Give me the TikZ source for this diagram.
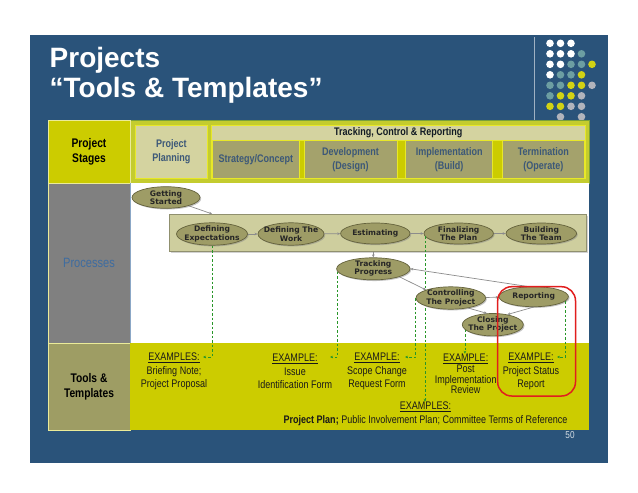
\documentclass[tikz,border=0pt]{standalone}
\usepackage{fontspec}
\setmainfont{Liberation Sans}
\newfontfamily\narrowfont[FakeStretch=0.82]{Liberation Sans}
\newfontfamily\procfont{DejaVu Sans}
\usepackage{tikz}
\usetikzlibrary{shapes.geometric, shadows, arrows.meta}
\definecolor{slideblue}{RGB}{42,83,122}
\definecolor{stageyellow}{RGB}{204,204,0}
\definecolor{bandgreen}{RGB}{196,204,46}
\definecolor{bandedge}{RGB}{122,160,58}
\definecolor{lightkhaki}{RGB}{212,211,160}
\definecolor{darkkhaki}{RGB}{164,162,108}
\definecolor{celledge}{RGB}{232,232,40}
\definecolor{celltext}{RGB}{60,88,120}
\definecolor{procgray}{RGB}{128,128,128}
\definecolor{procblue}{RGB}{62,108,160}
\definecolor{toololive}{RGB}{158,157,100}
\definecolor{ellfill}{RGB}{158,156,102}
\definecolor{elledge}{RGB}{100,98,60}
\definecolor{bandfill}{RGB}{206,206,158}
\definecolor{linkgray}{RGB}{140,140,140}
\definecolor{exgreen}{RGB}{40,150,40}
\definecolor{hilite}{RGB}{225,30,30}
\definecolor{dotteal}{RGB}{108,158,162}
\definecolor{dotyellow}{RGB}{210,210,20}
\definecolor{dotgray}{RGB}{178,180,188}
\newcommand{\cellfont}{\narrowfont\bfseries\fontsize{11}{14}\selectfont}
\newcommand{\toolfont}{\narrowfont\fontsize{11}{13.5}\selectfont}

\begin{document}
\begin{tikzpicture}[
      % GLOBAL CFG
      x=1pt, y=-1pt,
      >={Stealth[length=3pt,width=2.6pt]},
      % Styles
      stagecell/.style={% For row headers
        rectangle,
        fill=stageyellow,
        draw=white!60!stageyellow,
        line width=0.5pt,
        minimum width=82pt,
        inner sep=0pt,
        align=center,
        font=\narrowfont\bfseries\fontsize{12.5}{15}\selectfont
      },
      cell/.style={% For stage cells
        rectangle,
        fill=lightkhaki,
        draw=celledge,
        line width=0.8pt,
        inner sep=0pt,
        align=center,
        text=celltext,
        font=\cellfont
      },
      darkcell/.style={
        cell,
        fill=darkkhaki,
        minimum height=37.5pt
      },
      proc/.style={% For processes
        ellipse,
        draw=elledge,
        fill=ellfill,
        line width=0.7pt,
        inner xsep=-8pt,
        inner ysep=0pt,
        minimum width=70pt,
        minimum height=21pt,
        align=center,
        text=black!85,
        font=\procfont\bfseries\fontsize{7.6}{6.9}\selectfont,
        drop shadow={shadow xshift=1.2pt, shadow yshift=-1.2pt, opacity=0.45}
      },
      band/.style={% For the planning group
        rectangle,
        fill=bandfill,
        draw=bandfill!70!black,
        line width=0.6pt,
        inner sep=0pt,
        minimum width=417pt,
        minimum height=37pt,
        drop shadow={shadow xshift=1.5pt, shadow yshift=-1.5pt, opacity=0.35}
      },
      tool/.style={% For examples
        inner sep=0pt,
        align=center,
        text=black!90,
        font=\toolfont
      },
      arrowprocess/.style={% Arrows between processes
        ->,
        draw=linkgray,
        line width=0.7pt
      },
      arrowexample/.style={% Arrows to examples
        ->,
        color=exgreen,
        dash pattern=on 2.5pt off 2pt,
        line width=0.7pt
      }
      ]
      \useasboundingbox (0,0) rectangle (638,493);
      \fill[white] (0,0) rectangle (638,493);
      \fill[slideblue] (30,35) rectangle (608,463);

      % Title
      \node[anchor=base west, inner sep=0pt, text=white, font=\bfseries\fontsize{28}{30}\selectfont] (title) at (49.5,67) {Projects};
      \node[anchor=base west, inner sep=0pt, text=white, font=\bfseries\fontsize{28}{30}\selectfont] (subtitle) at (49.5,97) {“Tools \& Templates”};

      % Dots
      \draw[white!55!slideblue, line width=0.8pt] (534,37) -- (534,121);
      \fill[white] (550,43.3) circle (3.8) (560.5,43.3) circle (3.8) (571,43.3) circle (3.8)
        (550,53.8) circle (3.8) (560.5,53.8) circle (3.8) (571,53.8) circle (3.8)
        (550,64.3) circle (3.8) (560.5,64.3) circle (3.8) (550,74.8) circle (3.8);
      \fill[dotteal] (581.5,53.8) circle (3.8) (571,64.3) circle (3.8) (581.5,64.3) circle (3.8)
        (560.5,74.8) circle (3.8) (571,74.8) circle (3.8) (550,85.3) circle (3.8)
        (560.5,85.3) circle (3.8) (550,95.8) circle (3.8);
      \fill[dotyellow] (592,64.3) circle (3.8) (581.5,74.8) circle (3.8) (571,85.3) circle (3.8)
        (581.5,85.3) circle (3.8) (560.5,95.8) circle (3.8) (571,95.8) circle (3.8)
        (550,106.3) circle (3.8) (560.5,106.3) circle (3.8);
      \fill[dotgray] (592,85.3) circle (3.8) (581.5,95.8) circle (3.8) (571,106.3) circle (3.8)
        (581.5,106.3) circle (3.8) (560.5,116.8) circle (3.8) (581.5,116.8) circle (3.8);

      % Header row
      \filldraw[fill=bandgreen, draw=bandedge, line width=1pt] (130,120) rectangle (589,183);
      \node[stagecell, minimum height=63pt] (stages) at (89,151.5) {Project\\Stages};
      \node[cell, minimum width=72.7pt, minimum height=53pt] (planning) at (171.35,151.5) {Project\\Planning};
      \filldraw[fill=stageyellow, draw=celledge, line width=0.8pt] (211.7,125) rectangle (585,178);
      \node[cell, minimum width=373.3pt, minimum height=15pt, text=black!70!celltext] (tracking) at (398.35,132.5) {Tracking, Control \& Reporting};
      \node[darkcell, minimum width=86.3pt] (strategy) at (255.85,159.25) {Strategy/Concept};
      \node[darkcell, minimum width=93pt] (design) at (350.5,159.25) {Development\\(Design)};
      \node[darkcell, minimum width=87pt] (build) at (449.2,159.25) {Implementation\\(Build)};
      \node[darkcell, minimum width=81.3pt] (operate) at (543.35,159.25) {Termination\\(Operate)};

      % Rows
      \node[stagecell, fill=procgray, minimum height=160pt, text=procblue, font=\narrowfont\fontsize{13.5}{16}\selectfont] (processes) at (89,263) {Processes};
      \fill[white] (130,183) rectangle (589,343);
      \draw[procblue!60, line width=0.6pt] (130,183) -- (130,343);
      \node[stagecell, fill=toololive, minimum height=87pt] (tools) at (89,386.5) {Tools \&\\Templates};
      \fill[stageyellow] (130,343) rectangle (589,430);

      % Processes
      \node[band] (plan) at (378,232.7) {};
      \node[proc, minimum width=68pt, minimum height=21.6pt] (getstart) at (166,197.5) {Getting\\Started};
      \node[proc, minimum width=71pt, minimum height=22.4pt] (defexp) at (212,234) {Defining\\Expectations};
      \node[proc, minimum width=66pt, minimum height=22.4pt] (defwork) at (291,234) {Defining The\\Work};
      \node[proc, minimum width=69.4pt] (estim) at (375.3,233.5) {Estimating};
      \node[proc, minimum width=69.4pt] (finplan) at (458.7,233.5) {Finalizing\\The Plan};
      \node[proc, minimum width=70.6pt] (buildteam) at (541.3,233.5) {Building\\The Team};
      \node[proc, minimum width=73.4pt, minimum height=20pt] (track) at (373.3,268.8) {Tracking\\Progress};

      % Examples
      \node[tool] (exbrief) at (174,371.7) {\underline{EXAMPLES:}\\Briefing Note;\\Project Proposal};
      \node[tool] (exissue) at (295,371.7) {\underline{EXAMPLE:}\\Issue\\Identification Form};
      \node[tool] (exscope) at (377,371.7) {\underline{EXAMPLE:}\\Scope Change\\Request Form};
      \node[tool, font=\narrowfont\fontsize{11}{10.8}\selectfont] (expost) at (465.7,374) {\underline{EXAMPLE:}\\Post\\Implementation\\Review};
      \node[tool] (exstatus) at (531,371.7) {\underline{EXAMPLE:}\\Project Status\\Report};
      \node[tool] (exall) at (425.5,413.7) {\underline{EXAMPLES:}\\\textbf{Project Plan;} Public Involvement Plan; Committee Terms of Reference};

      \draw[arrowexample] (finplan.185) -- (finplan.185 |- exall.north);

      \node[proc, minimum width=69.6pt, minimum height=20.6pt] (ctrl) at (450.8,298) {Controlling\\The Project};
      \node[proc, minimum width=69.4pt, minimum height=20pt] (report) at (533.7,296.7) {Reporting};
      \node[proc, minimum width=61pt, minimum height=20.6pt] (closing) at (492.8,324.7) {Closing\\The Project};

      \draw[arrowprocess] (getstart.-20) -- (plan.north -| defexp.north);
      \draw[arrowprocess] (defexp) -- (defwork);
      \draw[arrowprocess] (defwork) -- (estim);
      \draw[arrowprocess] (estim) -- (finplan);
      \draw[arrowprocess] (finplan) -- (buildteam);
      \draw[arrowprocess] (plan.south -| track.north) -- (track.north);
      \draw[arrowprocess] (track.south east) -- (ctrl.north west);
      \draw[arrowprocess] (ctrl) -- (report);
      \draw[arrowprocess] (report.120) -- (track.east);
      \draw[arrowprocess] (ctrl.-30) -- (closing.117);
      \draw[arrowprocess] (report.south) -- (closing.35);

      \coordinate (hookbrief) at (203,357);
      \coordinate (hookissue) at (330,357);
      \coordinate (hookscope) at (405,357);
      \coordinate (hookstatus) at (557,357);

      \draw[arrowexample] (defexp.south) |- (hookbrief);
      \draw[arrowexample] (track.185) |- (hookissue);
      \draw[arrowexample] (ctrl.west) |- (hookscope);
      \draw[arrowexample] (report.-8) |- (hookstatus);
      \draw[arrowexample] (closing.190) -- (closing.190 |- expost.north);

      \draw[hilite, line width=1.5pt, rounded corners=14pt] (497.7,286.7) rectangle (575.5,396);

      \node[inner sep=0pt, text=white!80!slideblue, font=\narrowfont\fontsize{10}{11}\selectfont] (pagenum) at (570,435) {50};
    \end{tikzpicture}
\end{document}
